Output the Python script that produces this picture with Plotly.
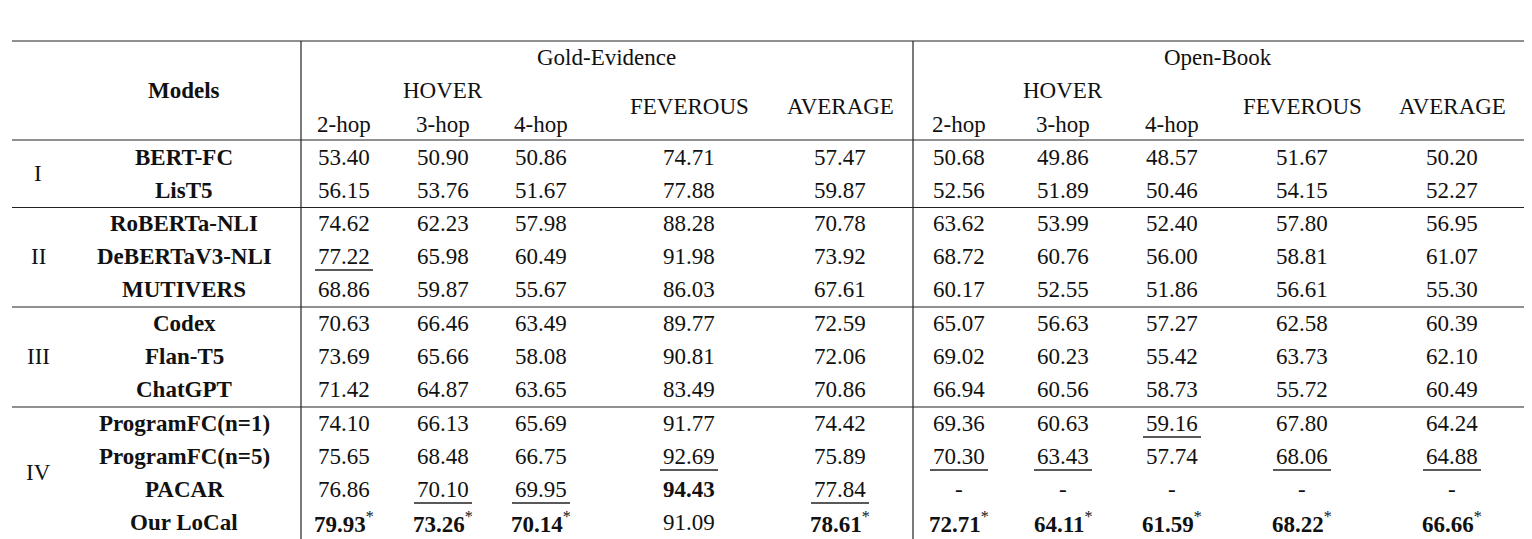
import plotly.graph_objects as go

groups = ["I", "II", "III", "IV"]
group_rows = [[0, 1], [2, 3, 4], [5, 6, 7], [8, 9, 10, 11]]
models = ["BERT-FC", "LisT5", "RoBERTa-NLI", "DeBERTaV3-NLI", "MUTIVERS", "Codex", "Flan-T5",
          "ChatGPT", "ProgramFC(n=1)", "ProgramFC(n=5)", "PACAR", "Our LoCal"]
subcols = ["2-hop", "3-hop", "4-hop", "FEVEROUS", "AVERAGE"]
gold = [
    ["53.40", "50.90", "50.86", "74.71", "57.47"],
    ["56.15", "53.76", "51.67", "77.88", "59.87"],
    ["74.62", "62.23", "57.98", "88.28", "70.78"],
    ["77.22", "65.98", "60.49", "91.98", "73.92"],
    ["68.86", "59.87", "55.67", "86.03", "67.61"],
    ["70.63", "66.46", "63.49", "89.77", "72.59"],
    ["73.69", "65.66", "58.08", "90.81", "72.06"],
    ["71.42", "64.87", "63.65", "83.49", "70.86"],
    ["74.10", "66.13", "65.69", "91.77", "74.42"],
    ["75.65", "68.48", "66.75", "92.69", "75.89"],
    ["76.86", "70.10", "69.95", "94.43", "77.84"],
    ["79.93", "73.26", "70.14", "91.09", "78.61"],
]
openbook = [
    ["50.68", "49.86", "48.57", "51.67", "50.20"],
    ["52.56", "51.89", "50.46", "54.15", "52.27"],
    ["63.62", "53.99", "52.40", "57.80", "56.95"],
    ["68.72", "60.76", "56.00", "58.81", "61.07"],
    ["60.17", "52.55", "51.86", "56.61", "55.30"],
    ["65.07", "56.63", "57.27", "62.58", "60.39"],
    ["69.02", "60.23", "55.42", "63.73", "62.10"],
    ["66.94", "60.56", "58.73", "55.72", "60.49"],
    ["69.36", "60.63", "59.16", "67.80", "64.24"],
    ["70.30", "63.43", "57.74", "68.06", "64.88"],
    ["-", "-", "-", "-", "-"],
    ["72.71", "64.11", "61.59", "68.22", "66.66"],
]
# (row, col) markers: col 0-4 gold, 5-9 open-book
underlined = [(3, 0), (10, 1), (10, 2), (9, 3), (10, 4), (9, 5), (9, 6), (8, 7), (9, 8), (9, 9)]
bold = [(10, 3)]
bold_star = [(11, c) for c in [0, 1, 2, 4, 5, 6, 7, 8, 9]]

W, H = 1532, 539
OFF = 8  # page body margin
xcols = [344, 443, 541, 689, 840, 959, 1063, 1172, 1302, 1452]
x_group, x_model = 38, 184
row_y = [157, 190, 223, 256, 289, 323, 356, 389, 423, 456, 489, 522]
FONT = dict(family="Liberation Serif, DejaVu Serif, serif", size=23, color="#111")

fig = go.Figure()
ann = []
def t(x, y, s, **kw):
    ann.append(dict(x=x, y=y, text=s, showarrow=False, xref="x", yref="y", font=FONT, **kw))

t(606, 57, "Gold-Evidence"); t(1218, 57, "Open-Book")
t(x_model, 90, "<b>Models</b>")
for base in (0, 5):
    t(xcols[base + 1], 90, "HOVER")
    for i in range(3):
        t(xcols[base + i], 124, subcols[i])
    t(xcols[base + 3], 106, subcols[3]); t(xcols[base + 4], 106, subcols[4])

for g, rows in zip(groups, group_rows):
    t(x_group, sum(row_y[r] for r in rows) / len(rows), g)
for r, m in enumerate(models):
    t(x_model, row_y[r], "<b>" + m + "</b>")
    vals = gold[r] + openbook[r]
    for c, v in enumerate(vals):
        s = v
        if (r, c) in bold_star:
            s = "<b>" + v + "</b><sup>*</sup>"
        elif (r, c) in bold:
            s = "<b>" + v + "</b>"
        t(xcols[c], row_y[r], s)

shapes = []
def line(x0, y0, x1, y1, w=1.2):
    shapes.append(dict(type="line", xref="x", yref="y", x0=x0, y0=y0, x1=x1, y1=y1,
                       line=dict(color="#222", width=w)))
line(12, 41, W, 41)
line(12, 140, W, 140)
for rows in group_rows[1:]:
    yb = (row_y[rows[0]] + row_y[rows[0] - 1]) / 2 + 1
    line(12, yb, W, yb)
line(301, 41, 301, H + 10); line(913, 41, 913, H + 10)
for r, c in underlined:
    line(xcols[c] - 29, row_y[r] + 14, xcols[c] + 29, row_y[r] + 14, 1.4)

fig.add_trace(go.Scatter(x=[OFF, W], y=[OFF, H], mode="markers", marker=dict(opacity=0), hoverinfo="skip"))
fig.update_layout(width=W, height=H, margin=dict(l=0, r=0, t=0, b=0), plot_bgcolor="white",
                  paper_bgcolor="white", showlegend=False, annotations=ann, shapes=shapes,
                  xaxis=dict(range=[OFF, W + OFF], visible=False, fixedrange=True),
                  yaxis=dict(range=[H + OFF, OFF], visible=False, fixedrange=True))
fig.write_html("out.html")
